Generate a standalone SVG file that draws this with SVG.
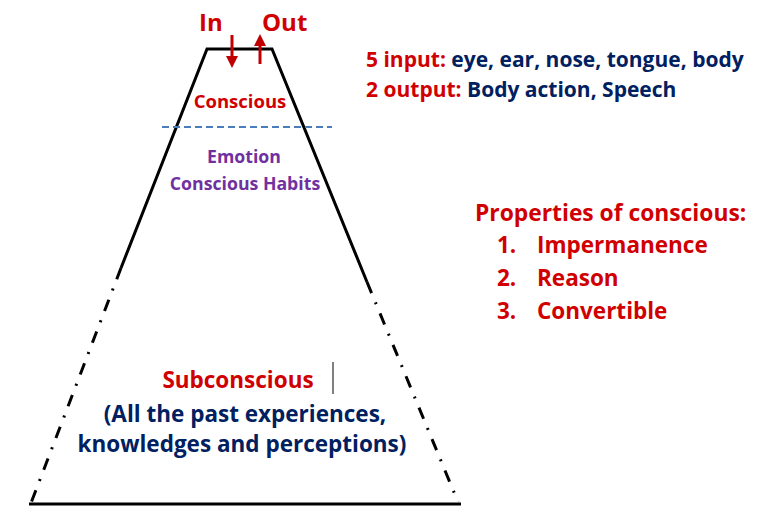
<svg xmlns="http://www.w3.org/2000/svg" width="777" height="521" viewBox="0 0 777 521">
<style>
text{font-family:"Open Sans","Liberation Sans",sans-serif;font-weight:bold}
.r{fill:#d00000}.n{fill:#002060}.p{fill:#7030a0}
.ln{stroke:#000;stroke-width:3;fill:none}
.dd{stroke:#000;stroke-width:3;fill:none;stroke-dasharray:12 10 2 10}
</style>
<defs><marker id="ah" viewBox="0 0 10 10" refX="5" refY="5" markerWidth="4" markerHeight="4" orient="auto"><path d="M0,0L10,5L0,10z" fill="#c00000"/></marker></defs>
<rect width="777" height="521" fill="#fff"/>
<g id="connectors">
<polyline class="ln" points="121,268 207,49 272,49 367,282"/>
<line class="dd" x1="121" y1="268" x2="31" y2="503"/>
<line class="dd" x1="367" y1="282" x2="458" y2="502"/>
<line class="ln" x1="29" y1="504" x2="461" y2="504"/>
<line x1="162" y1="127" x2="332" y2="127" stroke="#4a7ebb" stroke-width="2" stroke-dasharray="7 4"/>
<line x1="232" y1="35" x2="232" y2="62" stroke="#c00000" stroke-width="3" marker-end="url(#ah)"/>
<line x1="260" y1="64" x2="260" y2="40" stroke="#c00000" stroke-width="3" marker-end="url(#ah)"/>
<line x1="333" y1="362" x2="333" y2="394" stroke="#000" stroke-width="1"/>
</g>
<g id="io"><text x="199" y="31" class="r" font-size="24">In</text><text x="262" y="31" class="r" font-size="24">Out</text></g>
<g id="conscious"><text x="240" y="108" class="r" font-size="18.5" text-anchor="middle">Conscious</text></g>
<g id="emotion"><text x="244" y="163" class="p" font-size="17.7" text-anchor="middle">Emotion</text><text x="245" y="190" class="p" font-size="17.7" text-anchor="middle">Conscious Habits</text></g>
<g id="io-list"><text x="366" y="67" font-size="21"><tspan class="r">5 input: </tspan><tspan class="n">eye, ear, nose, tongue, body</tspan></text>
<text x="366" y="97" font-size="21"><tspan class="r">2 output: </tspan><tspan class="n">Body action, Speech</tspan></text></g>
<g id="properties"><text x="475" y="221" class="r" font-size="22.8">Properties of conscious:</text>
<text x="497" y="253" class="r" font-size="22.5">1.</text><text x="537" y="253" class="r" font-size="22.5">Impermanence</text>
<text x="497" y="286" class="r" font-size="22.5">2.</text><text x="537" y="286" class="r" font-size="22.5">Reason</text>
<text x="497" y="319" class="r" font-size="22.5">3.</text><text x="537" y="319" class="r" font-size="22.5">Convertible</text></g>
<g id="subconscious"><text x="238" y="388" class="r" font-size="22.5" text-anchor="middle">Subconscious</text>
<text x="245" y="422" class="n" font-size="22.5" text-anchor="middle">(All the past experiences,</text>
<text x="242" y="452" class="n" font-size="22.5" text-anchor="middle">knowledges and perceptions)</text></g>
</svg>
